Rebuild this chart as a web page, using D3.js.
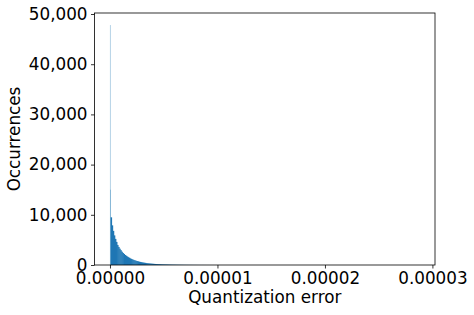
<!DOCTYPE html>
<html>
<head>
<meta charset="utf-8">
<script src="https://cdn.jsdelivr.net/npm/d3@7"></script>
<style>
  body { margin: 0; background: #fff; }
  svg { display: block; font-family: "DejaVu Sans", sans-serif; }
</style>
</head>
<body>
<svg width="474" height="315"></svg>
<script>
// two narrow bins right at zero (the spike), then the 1e-7 wide tail bins
var spikeWidth = 3e-8;
var spikeCounts = [47800, 15000];
var tailWidth = 1e-7;
var tailCounts = [
    9500, 7900, 6800, 5900, 5200, 4600, 4000, 3600, 3250, 2950,
    2650, 2400, 2200, 2000, 1850, 1700, 1560, 1430, 1300, 1200,
    1100, 1010, 930, 860, 790, 730, 670, 620, 570, 525,
    485, 450, 415, 385, 355, 330, 305, 282, 262, 243,
    225, 208, 193, 179, 166, 154, 143, 133, 124, 115,
    107, 99, 92, 86, 80, 74, 69, 64, 60, 56,
    52, 48, 45, 42, 39, 36, 34, 31, 29, 27,
    25, 23, 21, 20, 18, 17, 15, 14, 13, 12,
    11, 10, 9, 8, 7, 7, 6, 5, 5, 4,
    4, 3, 3, 2, 2, 2, 1, 1, 1, 1
];
var xTicks = [0, 0.00001, 0.00002, 0.00003];
var yTicks = [0, 10000, 20000, 30000, 40000, 50000];

var bins = [];
var start = 0;
spikeCounts.forEach(function(c) {
    bins.push({x0: start, x1: start + spikeWidth, count: c, thin: true});
    start += spikeWidth;
});
tailCounts.forEach(function(c) {
    bins.push({x0: start, x1: start + tailWidth, count: c, thin: false});
    start += tailWidth;
});

var svg = d3.select("svg");
var plotL = 94.5, plotR = 435, plotT = 13, plotB = 265;

var x = d3.scaleLinear().domain([-1.44e-6, 3.024e-5]).range([plotL, plotR]);
var y = d3.scaleLinear().domain([0, 50200]).range([plotB, plotT]);

svg.append("rect").attr("width", 474).attr("height", 315).attr("fill", "#fff");

// tail bars get a small overlap so no seams show between them
svg.append("g")
    .selectAll("rect")
    .data(bins)
    .enter()
    .append("rect")
    .attr("x", function(d) { return x(d.x0); })
    .attr("width", function(d) { return x(d.x1) - x(d.x0) + (d.thin ? 0 : 0.4); })
    .attr("y", function(d) { return y(d.count); })
    .attr("height", function(d) { return plotB - y(d.count); })
    .attr("fill", "#1f77b4");

var xAxis = svg.append("g")
    .attr("transform", "translate(0," + plotB + ")")
    .call(d3.axisBottom(x).tickValues(xTicks).tickFormat(d3.format(".5f"))
        .tickSizeInner(3.5).tickSizeOuter(0).tickPadding(3.5));

var yAxis = svg.append("g")
    .attr("transform", "translate(" + plotL + ",0)")
    .call(d3.axisLeft(y).tickValues(yTicks).tickFormat(d3.format(","))
        .tickSizeInner(3.5).tickSizeOuter(0).tickPadding(3.5));

[xAxis, yAxis].forEach(function(a) {
    a.select(".domain").remove();
    a.selectAll("text").attr("font-size", 16.8).attr("fill", "#000")
        .attr("font-family", "DejaVu Sans");
    a.selectAll("line").attr("stroke", "#000").attr("stroke-width", 0.8);
});

// frame
svg.append("rect")
    .attr("x", plotL).attr("y", plotT)
    .attr("width", plotR - plotL).attr("height", plotB - plotT)
    .attr("fill", "none")
    .attr("stroke", "#000")
    .attr("stroke-width", 0.8);

svg.append("text")
    .attr("x", (plotL + plotR) / 2)
    .attr("y", 303)
    .attr("text-anchor", "middle")
    .attr("font-size", 16.8)
    .text("Quantization error");

svg.append("text")
    .attr("transform", "translate(20," + (plotT + plotB) / 2 + ") rotate(-90)")
    .attr("text-anchor", "middle")
    .attr("font-size", 16.8)
    .text("Occurrences");
</script>
</body>
</html>
